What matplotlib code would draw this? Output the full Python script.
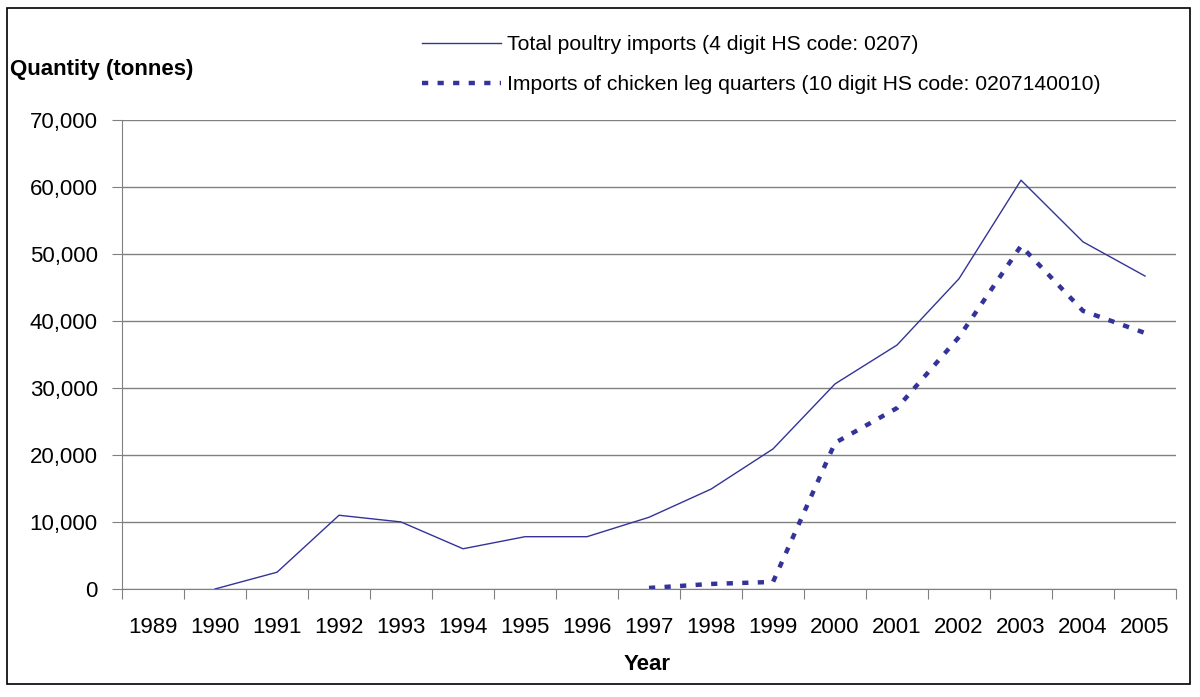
import numpy as np
import matplotlib
matplotlib.use("Agg")
import matplotlib.pyplot as plt
from matplotlib.patches import Rectangle
from matplotlib.ticker import FuncFormatter

plt.rcParams["font.family"] = ["Liberation Sans", "DejaVu Sans"]

categories = [1989, 1990, 1991, 1992, 1993, 1994, 1995, 1996, 1997,
              1998, 1999, 2000, 2001, 2002, 2003, 2004, 2005]

total_years = [1990, 1991, 1992, 1993, 1994, 1995, 1996, 1997,
               1998, 1999, 2000, 2001, 2002, 2003, 2004, 2005]
total_qty = [0, 2500, 11000, 10000, 6000, 7800, 7800, 10700,
             14900, 20900, 30600, 36400, 46300, 61000, 51800, 46700]

clq_years = [1997, 1998, 1999, 2000, 2001, 2002, 2003, 2004, 2005]
clq_qty = [150, 750, 1050, 21800, 27000, 37600, 51200, 41500, 38200]

LINE_COLOUR = "#333399"
GRID_COLOUR = "#808080"

fig = plt.figure(figsize=(12, 6.97), dpi=100)
ax = fig.add_axes([0.1017, 0.155, 0.8783, 0.673])

pos = {c: i for i, c in enumerate(categories)}
ax.plot([pos[y] for y in total_years], total_qty, color=LINE_COLOUR, lw=1.0,
        label="Total poultry imports (4 digit HS code: 0207)")
ax.plot([pos[y] for y in clq_years], clq_qty, color=LINE_COLOUR, lw=3.2,
        linestyle=(0, (1.4, 2.1)), dash_capstyle="butt",
        label="Imports of chicken leg quarters (10 digit HS code: 0207140010)")

ax.set_xlim(-0.5, len(categories) - 0.5)
ax.set_ylim(0, 70000)
ax.set_yticks(np.arange(0, 70001, 10000))
ax.yaxis.set_major_formatter(FuncFormatter(lambda v, p: f"{int(v):,}"))
ax.grid(axis="y", color=GRID_COLOUR, lw=1.0)
ax.set_axisbelow(True)

# ticks between categories, labels centred in them
ax.set_xticks(np.arange(-0.5, len(categories), 1.0))
ax.set_xticklabels([])
ax.set_xticks(np.arange(len(categories)), minor=True)
ax.set_xticklabels([str(c) for c in categories], minor=True, fontsize=16)
ax.tick_params(axis="x", which="major", length=7, color=GRID_COLOUR, direction="out")
ax.tick_params(axis="x", which="minor", length=0, pad=20.5)
ax.tick_params(axis="y", length=7, color=GRID_COLOUR, labelsize=16, pad=10.5)

for side in ("top", "right"):
    ax.spines[side].set_visible(False)
ax.spines["left"].set_color(GRID_COLOUR)
ax.spines["bottom"].set_color(GRID_COLOUR)

fig.text(0.008, 0.901, "Quantity (tonnes)", fontsize=16, fontweight="bold",
         va="center", ha="left")
fig.text(0.539, 0.047, "Year", fontsize=16, fontweight="bold",
         va="center", ha="center")

fig.legend(loc="upper left", bbox_to_anchor=(0.345, 0.962), frameon=False,
           fontsize=15.2, handlelength=3.7, handletextpad=0.3, labelspacing=1.0,
           borderaxespad=0)

fig.patches.append(Rectangle((0.006, 0.0187), 0.986, 0.97, transform=fig.transFigure,
                             fill=False, edgecolor="black", lw=1.2))

fig.savefig("out.png", dpi=100, facecolor="white")
